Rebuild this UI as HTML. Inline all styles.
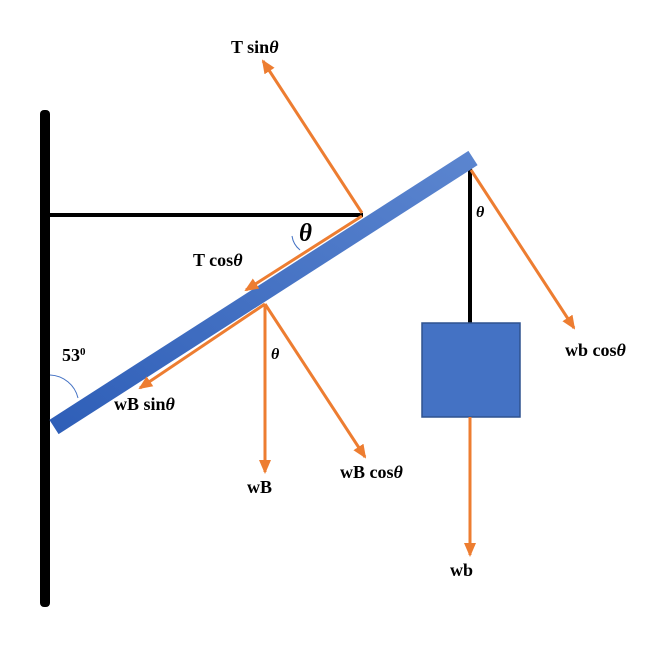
<!DOCTYPE html>
<html><head><style>
body{margin:0;background:#fff;width:669px;height:647px;overflow:hidden}
svg text{font-family:"Liberation Serif",serif;font-weight:bold;font-size:18px;fill:#000}
</style></head><body>
<svg width="669" height="647" viewBox="0 0 669 647">
<defs>
<marker id="a" markerWidth="14" markerHeight="12" refX="12" refY="6" orient="auto" markerUnits="userSpaceOnUse"><path d="M0,0 L14,6 L0,12 Z" fill="#ED7D31"/></marker>
<linearGradient id="g" x1="0" y1="1" x2="1" y2="0"><stop offset="0" stop-color="#2F5FB8"/><stop offset="1" stop-color="#5B85CF"/></linearGradient>
</defs>
<rect x="40" y="110" width="10" height="497" rx="4" fill="#000"/>
<line x1="49" y1="215" x2="363" y2="215" stroke="#000" stroke-width="4"/>
<line x1="470" y1="168" x2="470" y2="323" stroke="#000" stroke-width="4"/>
<path d="M292,236 A22,22 0 0 0 300,250" fill="none" stroke="#4472C4" stroke-width="1"/>
<path d="M50,375 A30,30 0 0 1 78,398" fill="none" stroke="#4472C4" stroke-width="1"/>
<line x1="54" y1="427" x2="473" y2="158" stroke="url(#g)" stroke-width="17" stroke-linecap="butt" stroke-linejoin="round"/>
<rect x="422" y="323" width="98" height="94" fill="#4472C4" stroke="#2F528F" stroke-width="1.5"/>
<g stroke="#ED7D31" stroke-width="3" fill="none">
<line x1="362" y1="213" x2="263" y2="61" marker-end="url(#a)"/>
<line x1="362" y1="216" x2="246" y2="290" marker-end="url(#a)"/>
<line x1="265" y1="304" x2="140" y2="388" marker-end="url(#a)"/>
<line x1="265" y1="304" x2="265" y2="472" marker-end="url(#a)"/>
<line x1="265" y1="304" x2="365" y2="457" marker-end="url(#a)"/>
<line x1="470" y1="417" x2="470" y2="555" marker-end="url(#a)"/>
<line x1="471" y1="170" x2="574" y2="328" marker-end="url(#a)"/>
</g>
<text x="231" y="53">T sin<tspan font-style="italic">θ</tspan></text>
<text x="193" y="266">T cos<tspan font-style="italic">θ</tspan></text>
<text x="299" y="241" font-style="italic" style="font-size:25px">θ</text>
<text x="476" y="217" font-style="italic" style="font-size:16px">θ</text>
<text x="271" y="359" font-style="italic" style="font-size:16px">θ</text>
<text x="62" y="361">53<tspan dy="-6" style="font-size:11px">0</tspan></text>
<text x="114" y="410">wB sin<tspan font-style="italic">θ</tspan></text>
<text x="247" y="493">wB</text>
<text x="340" y="478">wB cos<tspan font-style="italic">θ</tspan></text>
<text x="565" y="356">wb cos<tspan font-style="italic">θ</tspan></text>
<text x="450" y="576">wb</text>
</svg>
</body></html>
